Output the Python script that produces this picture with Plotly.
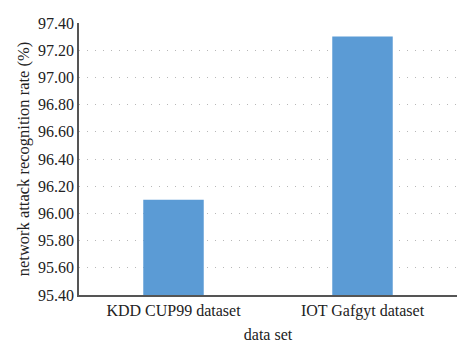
import plotly.graph_objects as go

categories = ["KDD CUP99 dataset", "IOT Gafgyt dataset"]
values = [96.10, 97.30]
tick_vals = [95.4, 95.6, 95.8, 96.0, 96.2, 96.4, 96.6, 96.8, 97.0, 97.2, 97.4]
tick_text = [f"{v:.2f}" for v in tick_vals]

font_family = "Liberation Serif"

fig = go.Figure(go.Bar(
    x=categories, y=values,
    marker=dict(color="#5B9BD5", line=dict(width=0)),
    width=0.32,
))

fig.update_layout(
    width=474, height=353,
    margin=dict(l=79, r=17, t=23, b=58),
    plot_bgcolor="white", paper_bgcolor="white",
    font=dict(family=font_family, size=16, color="#222222"),
    showlegend=False,
)
fig.update_xaxes(
    title=dict(text="data set", font=dict(size=16), standoff=10),
    showline=True, linecolor="#555555", linewidth=1.5,
    ticks="", showgrid=False,
    tickfont=dict(size=16),
)
fig.update_yaxes(
    title=dict(text="network attack recognition rate (%)", font=dict(size=16.5), standoff=4),
    range=[95.4, 97.4], tickvals=tick_vals, ticktext=tick_text,
    showline=True, linecolor="#555555", linewidth=1.5,
    showgrid=True, gridcolor="#b8b8b8", griddash="1px,7px", gridwidth=1.2,
    zeroline=False, ticks="", tickfont=dict(size=16),
)

fig.write_html("out.html")
